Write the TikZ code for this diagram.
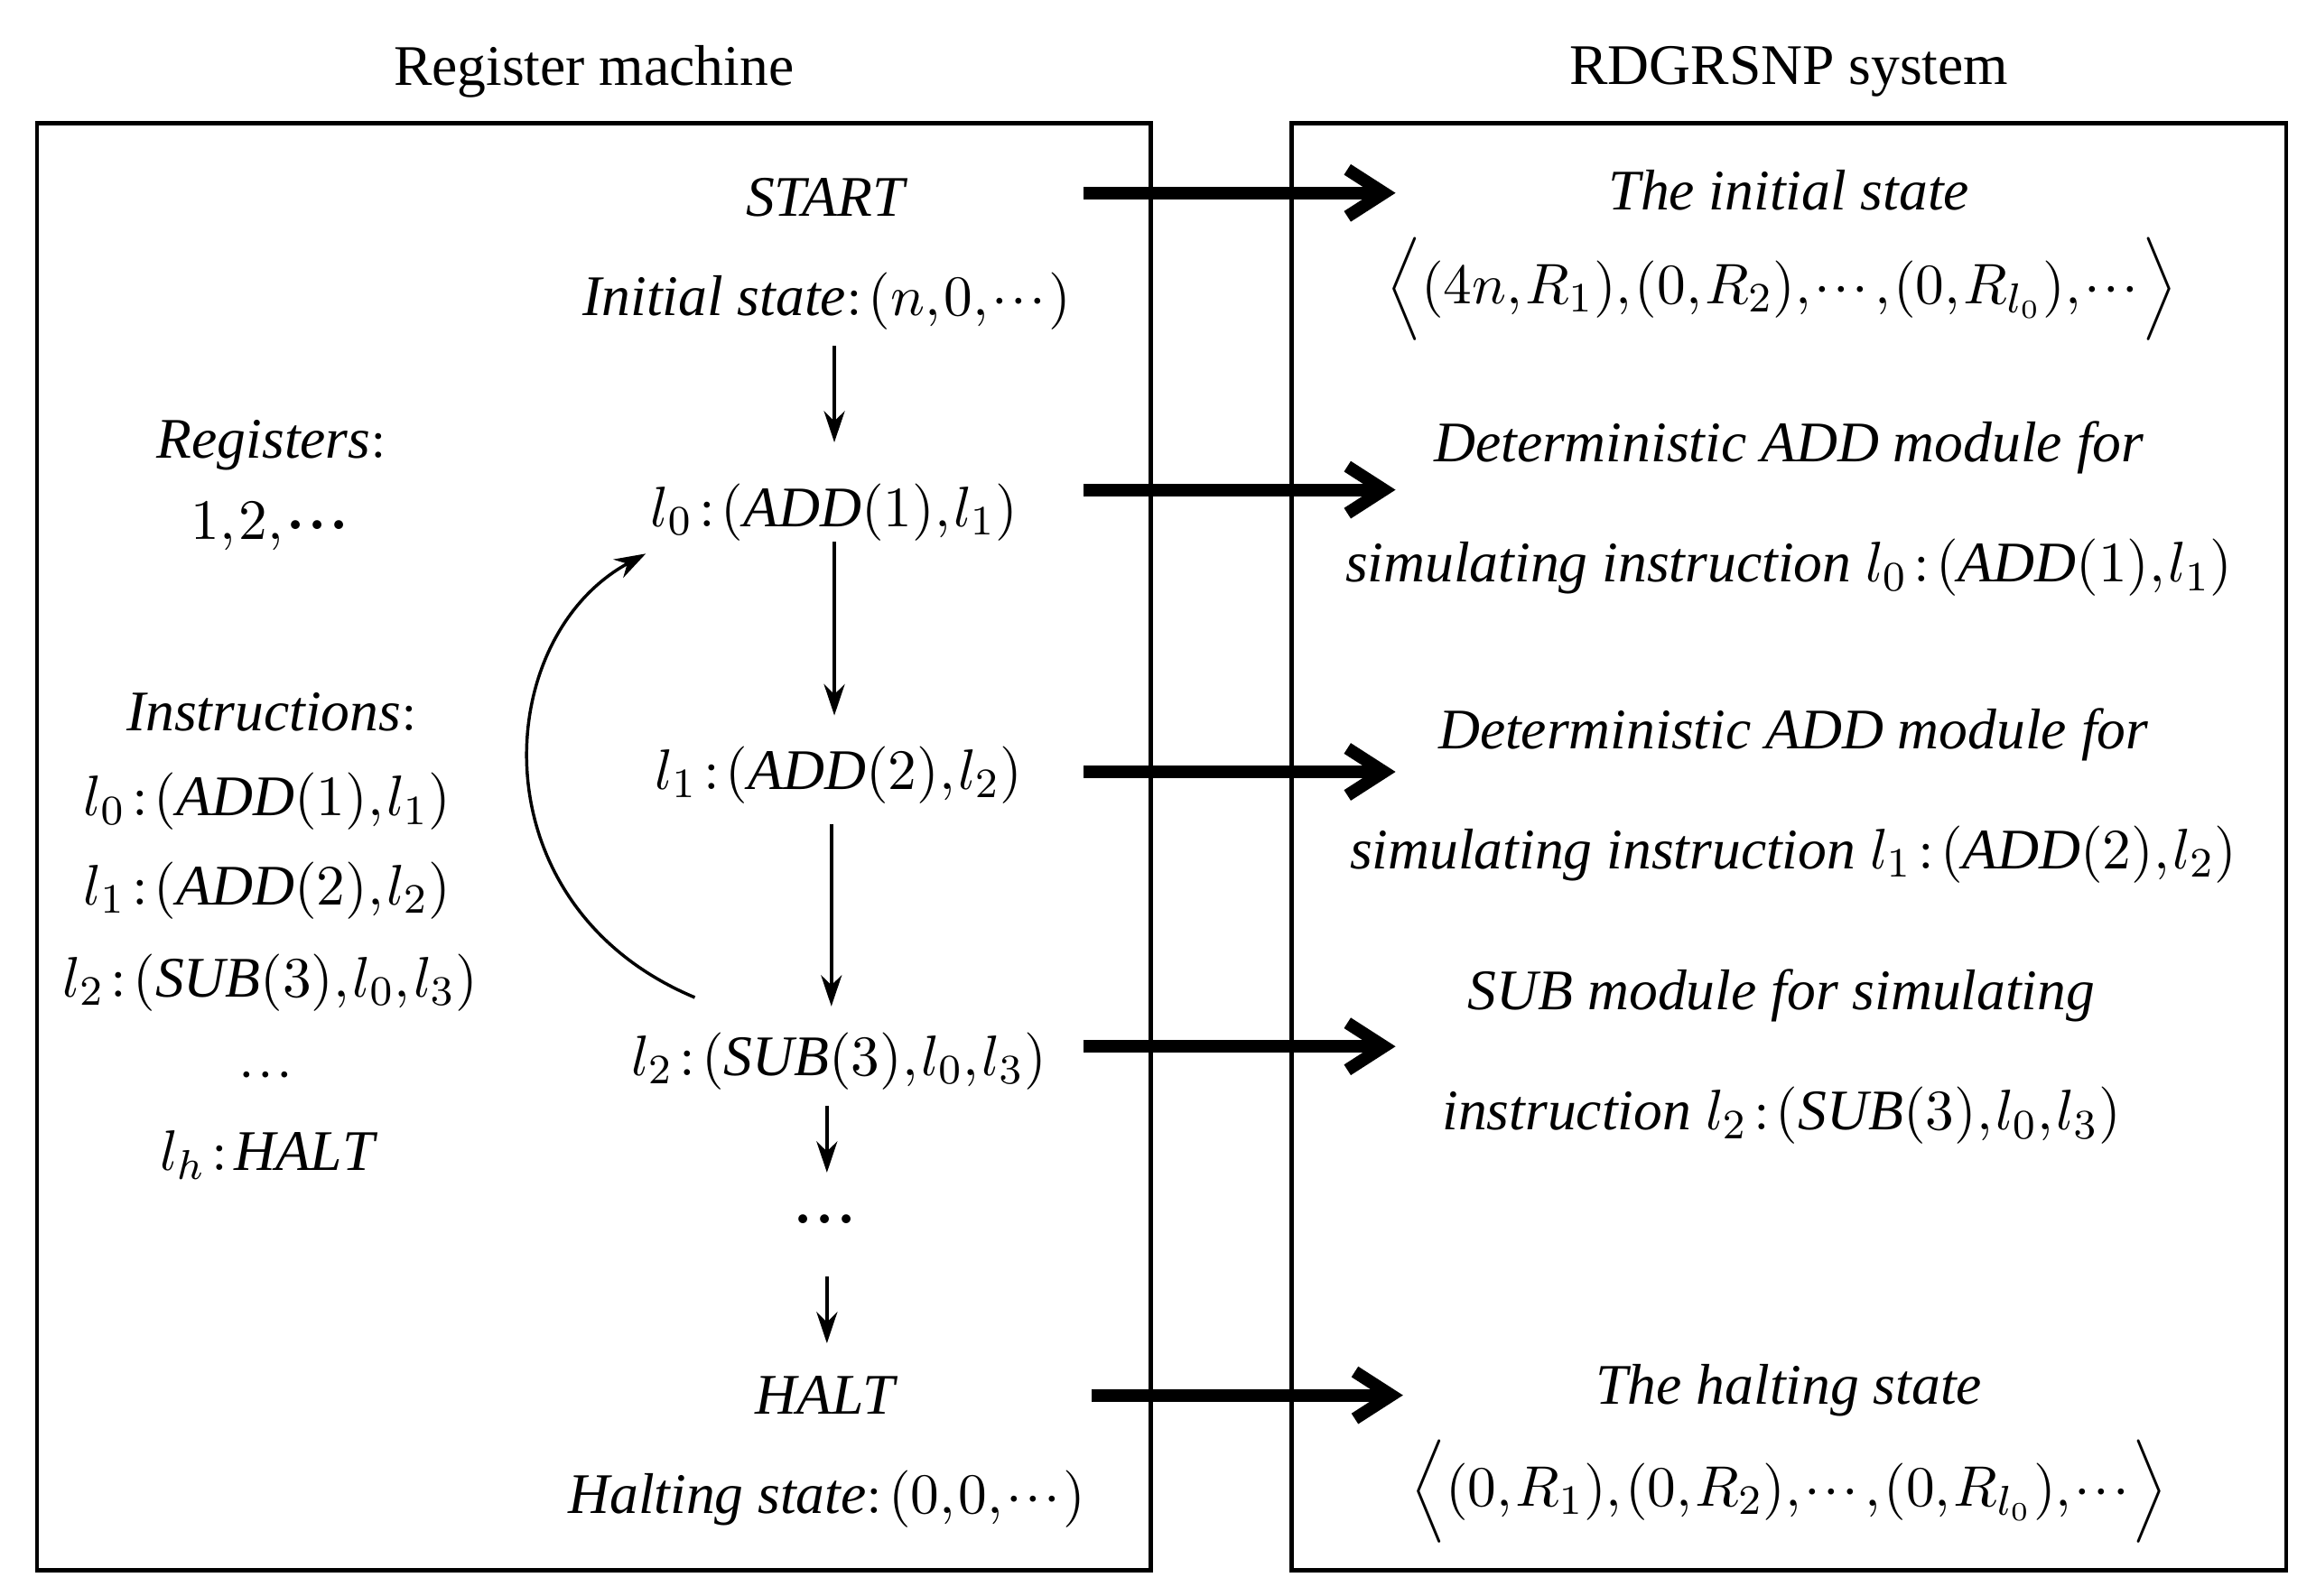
\documentclass[tikz,border=0pt]{standalone}
\usepackage{amsmath,amssymb,bm}
\usepackage{fontspec}
\setmainfont{Liberation Serif}
\usetikzlibrary{arrows.meta}
\thickmuskip=2mu \medmuskip=1mu \thinmuskip=1mu
\begin{document}
\begin{tikzpicture}[x=0.01cm,y=-0.01cm,
  every node/.style={font=\fontsize{11}{13}\selectfont, inner sep=1pt},
  box/.style={draw, line width=0.8pt},
  thin/.style={-{Stealth[length=6pt,width=4pt]}, line width=0.6pt},
  thick/.style={-{Straight Barb[length=7pt,width=9pt]}, line width=2.4pt}]
\useasboundingbox (0,0) rectangle (1560,1075);
\draw[box] (25,83) rectangle (775,1058);
\draw[box] (870,83) rectangle (1540,1058);
\node (t1) at (400,48) {Register machine};
\node (t2) at (1205,48) {RDGRSNP system};
% left column
\node (start) at (557,133) {\textit{START}};
\node (init) at (557,203) {\textit{Initial state}$:(n,0,\cdots)$};
\node (l0) at (562,345) {$l_0:(\mathit{ADD}(1),l_1)$};
\node (l1) at (565,522) {$l_1:(\mathit{ADD}(2),l_2)$};
\node (l2) at (565,715) {$l_2:(\mathit{SUB}(3),l_0,l_3)$};
\node (dots) at (557,822) {$\bm{\cdots}$};
\node (halt) at (557,940) {\textit{HALT}};
\node (hs) at (557,1010) {\textit{Halting state}$:(0,0,\cdots)$};
\coordinate (a1) at (562,233); \coordinate (b1) at (562,298);
\coordinate (a2) at (562,365); \coordinate (b2) at (562,482);
\coordinate (a3) at (560,555); \coordinate (b3) at (560,678);
\coordinate (a4) at (557,745); \coordinate (b4) at (557,790);
\coordinate (a5) at (557,860); \coordinate (b5) at (557,905);
\draw[thin] (a1) -- (b1);
\draw[thin] (a2) -- (b2);
\draw[thin] (a3) -- (b3);
\draw[thin] (a4) -- (b4);
\draw[thin] (a5) -- (b5);
\coordinate (c1) at (468,672); \coordinate (c2) at (435,373);
\draw[thin] (c1) .. controls (320,610) and (330,430) .. (c2);
% registers
\node (reg) at (183,300) {\textit{Registers}$:$};
\node (regs) at (183,355) {$1,2,\bm{\cdots}$};
\node (ins) at (183,480) {\textit{Instructions}$:$};
\node (i0) at (180,540) {$l_0:(\mathit{ADD}(1),l_1)$};
\node (i1) at (180,600) {$l_1:(\mathit{ADD}(2),l_2)$};
\node (i2) at (182,662) {$l_2:(\mathit{SUB}(3),l_0,l_3)$};
\node (i3) at (180,725) {$\cdots$};
\node (ih) at (180,778) {$l_h:\mathit{HALT}$};
% right
\node (r1) at (1205,128) {\textit{The initial state}};
\node (r1b) at (1200,195) {$\Big\langle(4n,R_1),(0,R_2),\cdots,(0,R_{l_0}),\cdots\Big\rangle$};
\node[align=center] (r2) at (1205,343) {\textit{Deterministic ADD module for}\\[10pt] \textit{simulating instruction} $l_0:(\mathit{ADD}(1),l_1)$};
\node[align=center] (r3) at (1208,536) {\textit{Deterministic ADD module for}\\[10pt] \textit{simulating instruction} $l_1:(\mathit{ADD}(2),l_2)$};
\node[align=center] (r4) at (1200,712) {\textit{SUB module for simulating}\\[10pt] \textit{instruction} $l_2:(\mathit{SUB}(3),l_0,l_3)$};
\node (r5) at (1205,937) {\textit{The halting state}};
\node (r5b) at (1205,1005) {$\Big\langle(0,R_1),(0,R_2),\cdots,(0,R_{l_0}),\cdots\Big\rangle$};
\coordinate (s1) at (730,130); \coordinate (e1) at (940,130);
\coordinate (s2) at (730,330); \coordinate (e2) at (940,330);
\coordinate (s3) at (730,520); \coordinate (e3) at (940,520);
\coordinate (s4) at (730,705); \coordinate (e4) at (940,705);
\coordinate (s5) at (735,940); \coordinate (e5) at (945,940);
\draw[thick] (s1) -- (e1);
\draw[thick] (s2) -- (e2);
\draw[thick] (s3) -- (e3);
\draw[thick] (s4) -- (e4);
\draw[thick] (s5) -- (e5);
\end{tikzpicture}
\end{document}
